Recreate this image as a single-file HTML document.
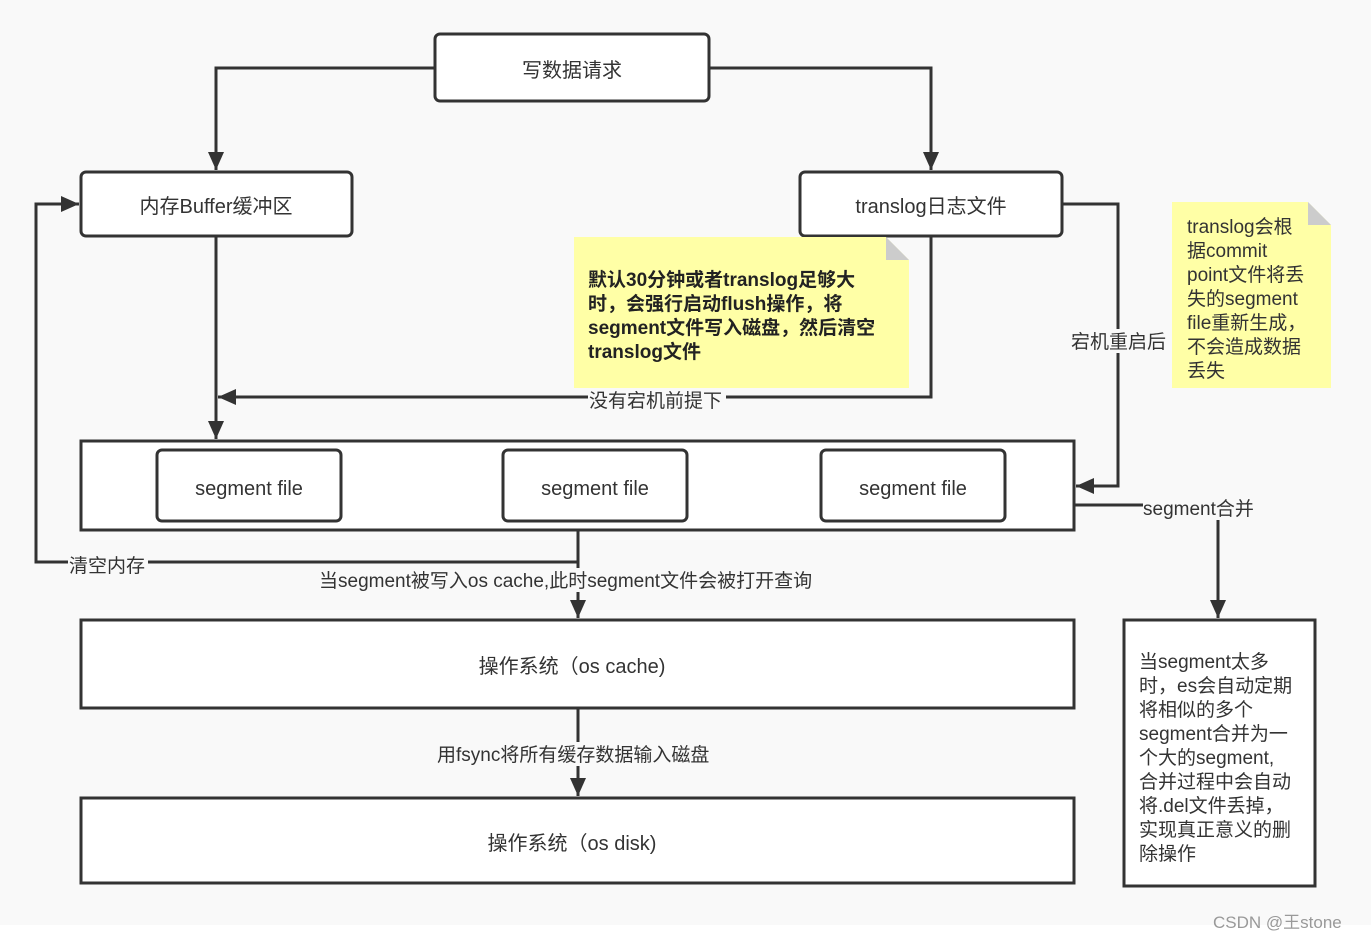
<!DOCTYPE html>
<html><head><meta charset="utf-8"><style>
html,body{margin:0;padding:0;background:#f9f9f9;}
svg{display:block;font-family:"Liberation Sans","Noto Sans CJK SC",sans-serif;}
</style></head><body>
<svg width="1371" height="939" viewBox="0 0 1371 939">
<defs>
<marker id="b" viewBox="0 0 18 16" markerWidth="18" markerHeight="16" refX="18" refY="8" orient="auto" markerUnits="userSpaceOnUse"><path d="M0,0 L18,8 L0,16 Z" fill="#333"/></marker></defs>
<rect x="0" y="925" width="1371" height="14" fill="#fff"/>
<g fill="none" stroke="#333" stroke-width="3">
<path d="M435,68 H216 V170" marker-end="url(#b)"/>
<path d="M709,68 H931 V170" marker-end="url(#b)"/>
<path d="M216,236 V439" marker-end="url(#b)"/>
<path d="M931,236 V397 H218" marker-end="url(#b)"/>
<path d="M1062,204 H1118 V486 H1076" marker-end="url(#b)"/>
<path d="M1074,505 H1218 V618" marker-end="url(#b)"/>
<path d="M578,530 V562 H36 V204 H79" marker-end="url(#b)"/>
<path d="M578,562 V618" marker-end="url(#b)"/>
<path d="M578,708 V796" marker-end="url(#b)"/>
</g>
<g fill="#fff" stroke="#333" stroke-width="3">
<rect x="435" y="34" width="274" height="67" rx="5"/>
<rect x="81" y="172" width="271" height="64" rx="5"/>
<rect x="800" y="172" width="262" height="64" rx="5"/>
<rect x="81" y="441" width="993" height="89"/>
<rect x="157" y="450" width="184" height="71" rx="5"/>
<rect x="503" y="450" width="184" height="71" rx="5"/>
<rect x="821" y="450" width="184" height="71" rx="5"/>
<rect x="81" y="620" width="993" height="88"/>
<rect x="81" y="798" width="993" height="85"/>
<rect x="1124" y="620" width="191" height="266"/>
</g>
<path d="M574,237 H886 L909,260 V388 H574 Z" fill="#ffffa6"/>
<path d="M886,237 L909,260 H886 Z" fill="#ccc"/>
<path d="M1172,202 H1308 L1331,225 V388 H1172 Z" fill="#ffffa6"/>
<path d="M1308,202 L1331,225 H1308 Z" fill="#ccc"/>
<g fill="#333" font-size="20" text-anchor="middle">
<text x="572" y="77">写数据请求</text>
<text x="216" y="213">内存Buffer缓冲区</text>
<text x="931" y="213">translog日志文件</text>
<text x="249" y="495">segment file</text>
<text x="595" y="495">segment file</text>
<text x="913" y="495">segment file</text>
<text x="572" y="673">操作系统（os cache)</text>
<text x="572" y="850">操作系统（os disk)</text>
</g>
<g font-size="19" fill="#333">
<rect x="588" y="389" width="138" height="22" fill="#f9f9f9"/>
<text x="589" y="407">没有宕机前提下</text>
<rect x="1070" y="329" width="98" height="24" fill="#f9f9f9"/>
<text x="1071" y="348">宕机重启后</text>
<rect x="1143" y="496" width="120" height="24" fill="#f9f9f9"/>
<text x="1143" y="515">segment合并</text>
<rect x="68" y="553" width="80" height="24" fill="#f9f9f9"/>
<text x="69" y="572">清空内存</text>
<rect x="318" y="568" width="520" height="24" fill="#f9f9f9"/>
<text x="319" y="587">当segment被写入os cache,此时segment文件会被打开查询</text>
<rect x="437" y="742" width="282" height="24" fill="#f9f9f9"/>
<text x="437" y="761">用fsync将所有缓存数据输入磁盘</text>
</g>
<g font-size="19" font-weight="bold" fill="#222">
<text x="588" y="286">默认30分钟或者translog足够大</text>
<text x="588" y="310">时，会强行启动flush操作，将</text>
<text x="588" y="334">segment文件写入磁盘，然后清空</text>
<text x="588" y="358">translog文件</text>
</g>
<g font-size="19" fill="#333">
<text x="1187" y="233">translog会根</text>
<text x="1187" y="257">据commit</text>
<text x="1187" y="281">point文件将丢</text>
<text x="1187" y="305">失的segment</text>
<text x="1187" y="329">file重新生成，</text>
<text x="1187" y="353">不会造成数据</text>
<text x="1187" y="377">丢失</text>
<text x="1139" y="668">当segment太多</text>
<text x="1139" y="692">时，es会自动定期</text>
<text x="1139" y="716">将相似的多个</text>
<text x="1139" y="740">segment合并为一</text>
<text x="1139" y="764">个大的segment,</text>
<text x="1139" y="788">合并过程中会自动</text>
<text x="1139" y="812">将.del文件丢掉，</text>
<text x="1139" y="836">实现真正意义的删</text>
<text x="1139" y="860">除操作</text>
</g>
<text x="1213" y="928" font-size="17" fill="#999">CSDN @王stone</text>
</svg>
</body></html>
